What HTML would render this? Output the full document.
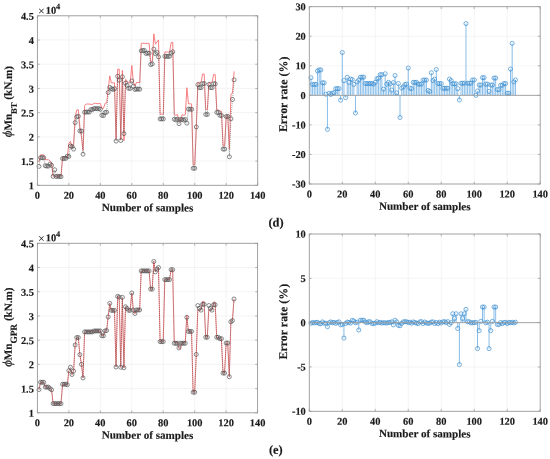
<!DOCTYPE html>
<html><head><meta charset="utf-8"><title>Figure</title>
<style>
html,body{margin:0;padding:0;background:#fff}
svg{display:block;filter:blur(0.3px)}
text{font-family:"Liberation Serif","DejaVu Serif",serif;font-weight:bold;fill:#1a1a1a;stroke:#1a1a1a;stroke-width:0.15px}
.tk{font-size:10.4px}
.lb{font-size:11.1px}
.cap{font-size:12.4px}
circle{fill:none;stroke:#4a4a4a;stroke-width:0.65}
circle.bc{stroke:#3d8fd1;stroke-width:0.7}
</style></head><body>
<svg width="550" height="459" viewBox="0 0 550 459">
<rect width="550" height="459" fill="#fff"/>
<line x1="68.87" y1="15.8" x2="68.87" y2="185.3" stroke="#ededed" stroke-width="0.6"/>
<line x1="100.34" y1="15.8" x2="100.34" y2="185.3" stroke="#ededed" stroke-width="0.6"/>
<line x1="131.81" y1="15.8" x2="131.81" y2="185.3" stroke="#ededed" stroke-width="0.6"/>
<line x1="163.29" y1="15.8" x2="163.29" y2="185.3" stroke="#ededed" stroke-width="0.6"/>
<line x1="194.76" y1="15.8" x2="194.76" y2="185.3" stroke="#ededed" stroke-width="0.6"/>
<line x1="226.23" y1="15.8" x2="226.23" y2="185.3" stroke="#ededed" stroke-width="0.6"/>
<line x1="37.4" y1="161.09" x2="257.7" y2="161.09" stroke="#ededed" stroke-width="0.6"/>
<line x1="37.4" y1="136.87" x2="257.7" y2="136.87" stroke="#ededed" stroke-width="0.6"/>
<line x1="37.4" y1="112.66" x2="257.7" y2="112.66" stroke="#ededed" stroke-width="0.6"/>
<line x1="37.4" y1="88.44" x2="257.7" y2="88.44" stroke="#ededed" stroke-width="0.6"/>
<line x1="37.4" y1="64.23" x2="257.7" y2="64.23" stroke="#ededed" stroke-width="0.6"/>
<line x1="37.4" y1="40.01" x2="257.7" y2="40.01" stroke="#ededed" stroke-width="0.6"/>
<polyline points="38.97,162.10 40.55,154.78 42.12,154.81 43.69,154.77 45.27,159.61 46.84,159.71 48.41,159.72 49.99,161.03 51.56,162.34 53.14,176.14 54.71,176.36 56.28,176.10 57.86,176.05 59.43,176.10 61.00,176.08 62.58,156.79 64.15,156.70 65.72,156.66 67.30,157.40 68.87,143.35 70.44,141.38 72.02,147.13 73.59,143.60 75.17,117.47 76.74,110.05 78.31,109.68 79.89,126.97 81.46,136.88 83.03,150.39 84.61,105.49 86.18,104.07 87.75,104.07 89.33,104.07 90.90,104.33 92.47,104.44 94.05,103.32 95.62,103.34 97.20,103.58 98.77,103.57 100.34,103.54 101.92,108.16 103.49,108.32 105.06,103.42 106.64,103.03 108.21,89.41 109.78,75.89 111.36,82.93 112.93,82.84 114.50,82.84 116.08,139.44 117.65,69.24 119.23,69.11 120.80,139.70 122.37,70.29 123.95,140.59 125.52,79.37 127.09,80.80 128.67,82.70 130.24,82.73 131.81,65.41 133.39,82.55 134.96,86.12 136.53,82.37 138.11,82.46 139.68,82.56 141.26,43.60 142.83,43.24 144.40,43.18 145.98,43.59 147.55,43.27 149.12,43.44 150.70,61.71 152.27,61.65 153.84,33.83 155.42,44.20 156.99,41.92 158.56,39.96 160.14,114.24 161.71,114.05 163.29,114.16 164.86,51.96 166.43,51.91 168.01,52.12 169.58,51.90 171.15,42.58 172.73,42.19 174.30,114.61 175.87,115.25 177.45,114.61 179.02,121.15 180.59,121.13 182.17,114.61 183.74,115.25 185.32,114.61 186.89,87.71 188.46,103.80 190.04,103.82 191.61,103.98 193.18,164.72 194.76,164.71 196.33,126.91 197.90,82.46 199.48,82.30 201.05,82.40 202.62,74.01 204.20,74.01 205.77,109.77 207.35,109.69 208.92,82.46 210.49,82.30 212.07,82.40 213.64,74.50 215.21,74.50 216.79,110.00 218.36,110.00 219.93,111.18 221.51,111.35 223.08,145.56 224.65,145.56 226.23,115.69 227.80,115.53 229.38,149.23 230.95,94.19 232.52,93.09 234.10,71.41" fill="none" stroke="#f66f74" stroke-width="0.9" stroke-linejoin="round"/>
<polyline points="38.97,166.38 40.55,157.70 42.12,157.73 43.69,157.69 45.27,165.73 46.84,166.08 48.41,166.08 49.99,164.11 51.56,165.36 53.14,176.37 54.71,169.76 56.28,176.51 57.86,176.22 59.43,176.51 61.00,176.60 62.58,158.54 64.15,158.45 65.72,158.41 67.30,156.14 68.87,156.45 70.44,146.00 72.02,146.48 73.59,149.09 75.17,122.59 76.74,116.86 78.31,116.32 79.89,130.92 81.46,131.10 83.03,154.22 84.61,112.16 86.18,112.05 87.75,112.05 89.33,112.05 90.90,109.51 92.47,109.61 94.05,108.54 95.62,108.55 97.20,108.79 98.77,108.52 100.34,109.27 101.92,115.27 103.49,115.59 105.06,112.54 106.64,112.18 108.21,92.44 109.78,87.42 111.36,88.66 112.93,89.48 114.50,88.73 116.08,141.14 117.65,76.31 119.23,80.14 120.80,140.50 122.37,76.83 123.95,133.60 125.52,83.15 127.09,85.24 128.67,88.29 130.24,88.47 131.81,80.96 133.39,86.26 134.96,89.47 136.53,89.03 138.11,89.11 139.68,89.22 141.26,50.83 142.83,50.48 144.40,50.42 145.98,53.42 147.55,53.11 149.12,53.28 150.70,64.55 152.27,63.96 153.84,49.10 155.42,53.68 156.99,52.47 158.56,56.92 160.14,119.02 161.71,118.83 163.29,118.94 164.86,56.32 166.43,56.28 168.01,56.48 169.58,56.27 171.15,53.09 172.73,51.77 174.30,119.26 175.87,119.87 177.45,119.26 179.02,123.70 180.59,119.37 182.17,119.50 183.74,120.11 185.32,119.50 186.89,123.19 188.46,109.12 190.04,109.14 191.61,109.30 193.18,168.31 194.76,168.30 196.33,126.91 197.90,84.70 199.48,87.60 201.05,87.70 202.62,83.59 204.20,83.59 205.77,114.48 207.35,114.40 208.92,84.49 210.49,87.60 212.07,87.70 213.64,83.82 215.21,83.82 216.79,112.42 218.36,112.42 219.93,115.35 221.51,115.51 223.08,149.09 224.65,149.09 226.23,116.51 227.80,116.35 229.38,156.75 230.95,118.75 232.52,99.49 234.10,79.85" fill="none" stroke="#4a4f4a" stroke-width="0.62" stroke-dasharray="0.8 1.2"/>
<circle cx="38.97" cy="166.38" r="2.0"/>
<circle cx="40.55" cy="157.70" r="2.0"/>
<circle cx="42.12" cy="157.73" r="2.0"/>
<circle cx="43.69" cy="157.69" r="2.0"/>
<circle cx="45.27" cy="165.73" r="2.0"/>
<circle cx="46.84" cy="166.08" r="2.0"/>
<circle cx="48.41" cy="166.08" r="2.0"/>
<circle cx="49.99" cy="164.11" r="2.0"/>
<circle cx="51.56" cy="165.36" r="2.0"/>
<circle cx="53.14" cy="176.37" r="2.0"/>
<circle cx="54.71" cy="169.76" r="2.0"/>
<circle cx="56.28" cy="176.51" r="2.0"/>
<circle cx="57.86" cy="176.22" r="2.0"/>
<circle cx="59.43" cy="176.51" r="2.0"/>
<circle cx="61.00" cy="176.60" r="2.0"/>
<circle cx="62.58" cy="158.54" r="2.0"/>
<circle cx="64.15" cy="158.45" r="2.0"/>
<circle cx="65.72" cy="158.41" r="2.0"/>
<circle cx="67.30" cy="156.14" r="2.0"/>
<circle cx="68.87" cy="156.45" r="2.0"/>
<circle cx="70.44" cy="146.00" r="2.0"/>
<circle cx="72.02" cy="146.48" r="2.0"/>
<circle cx="73.59" cy="149.09" r="2.0"/>
<circle cx="75.17" cy="122.59" r="2.0"/>
<circle cx="76.74" cy="116.86" r="2.0"/>
<circle cx="78.31" cy="116.32" r="2.0"/>
<circle cx="79.89" cy="130.92" r="2.0"/>
<circle cx="81.46" cy="131.10" r="2.0"/>
<circle cx="83.03" cy="154.22" r="2.0"/>
<circle cx="84.61" cy="112.16" r="2.0"/>
<circle cx="86.18" cy="112.05" r="2.0"/>
<circle cx="87.75" cy="112.05" r="2.0"/>
<circle cx="89.33" cy="112.05" r="2.0"/>
<circle cx="90.90" cy="109.51" r="2.0"/>
<circle cx="92.47" cy="109.61" r="2.0"/>
<circle cx="94.05" cy="108.54" r="2.0"/>
<circle cx="95.62" cy="108.55" r="2.0"/>
<circle cx="97.20" cy="108.79" r="2.0"/>
<circle cx="98.77" cy="108.52" r="2.0"/>
<circle cx="100.34" cy="109.27" r="2.0"/>
<circle cx="101.92" cy="115.27" r="2.0"/>
<circle cx="103.49" cy="115.59" r="2.0"/>
<circle cx="105.06" cy="112.54" r="2.0"/>
<circle cx="106.64" cy="112.18" r="2.0"/>
<circle cx="108.21" cy="92.44" r="2.0"/>
<circle cx="109.78" cy="87.42" r="2.0"/>
<circle cx="111.36" cy="88.66" r="2.0"/>
<circle cx="112.93" cy="89.48" r="2.0"/>
<circle cx="114.50" cy="88.73" r="2.0"/>
<circle cx="116.08" cy="141.14" r="2.0"/>
<circle cx="117.65" cy="76.31" r="2.0"/>
<circle cx="119.23" cy="80.14" r="2.0"/>
<circle cx="120.80" cy="140.50" r="2.0"/>
<circle cx="122.37" cy="76.83" r="2.0"/>
<circle cx="123.95" cy="133.60" r="2.0"/>
<circle cx="125.52" cy="83.15" r="2.0"/>
<circle cx="127.09" cy="85.24" r="2.0"/>
<circle cx="128.67" cy="88.29" r="2.0"/>
<circle cx="130.24" cy="88.47" r="2.0"/>
<circle cx="131.81" cy="80.96" r="2.0"/>
<circle cx="133.39" cy="86.26" r="2.0"/>
<circle cx="134.96" cy="89.47" r="2.0"/>
<circle cx="136.53" cy="89.03" r="2.0"/>
<circle cx="138.11" cy="89.11" r="2.0"/>
<circle cx="139.68" cy="89.22" r="2.0"/>
<circle cx="141.26" cy="50.83" r="2.0"/>
<circle cx="142.83" cy="50.48" r="2.0"/>
<circle cx="144.40" cy="50.42" r="2.0"/>
<circle cx="145.98" cy="53.42" r="2.0"/>
<circle cx="147.55" cy="53.11" r="2.0"/>
<circle cx="149.12" cy="53.28" r="2.0"/>
<circle cx="150.70" cy="64.55" r="2.0"/>
<circle cx="152.27" cy="63.96" r="2.0"/>
<circle cx="153.84" cy="49.10" r="2.0"/>
<circle cx="155.42" cy="53.68" r="2.0"/>
<circle cx="156.99" cy="52.47" r="2.0"/>
<circle cx="158.56" cy="56.92" r="2.0"/>
<circle cx="160.14" cy="119.02" r="2.0"/>
<circle cx="161.71" cy="118.83" r="2.0"/>
<circle cx="163.29" cy="118.94" r="2.0"/>
<circle cx="164.86" cy="56.32" r="2.0"/>
<circle cx="166.43" cy="56.28" r="2.0"/>
<circle cx="168.01" cy="56.48" r="2.0"/>
<circle cx="169.58" cy="56.27" r="2.0"/>
<circle cx="171.15" cy="53.09" r="2.0"/>
<circle cx="172.73" cy="51.77" r="2.0"/>
<circle cx="174.30" cy="119.26" r="2.0"/>
<circle cx="175.87" cy="119.87" r="2.0"/>
<circle cx="177.45" cy="119.26" r="2.0"/>
<circle cx="179.02" cy="123.70" r="2.0"/>
<circle cx="180.59" cy="119.37" r="2.0"/>
<circle cx="182.17" cy="119.50" r="2.0"/>
<circle cx="183.74" cy="120.11" r="2.0"/>
<circle cx="185.32" cy="119.50" r="2.0"/>
<circle cx="186.89" cy="123.19" r="2.0"/>
<circle cx="188.46" cy="109.12" r="2.0"/>
<circle cx="190.04" cy="109.14" r="2.0"/>
<circle cx="191.61" cy="109.30" r="2.0"/>
<circle cx="193.18" cy="168.31" r="2.0"/>
<circle cx="194.76" cy="168.30" r="2.0"/>
<circle cx="196.33" cy="126.91" r="2.0"/>
<circle cx="197.90" cy="84.70" r="2.0"/>
<circle cx="199.48" cy="87.60" r="2.0"/>
<circle cx="201.05" cy="87.70" r="2.0"/>
<circle cx="202.62" cy="83.59" r="2.0"/>
<circle cx="204.20" cy="83.59" r="2.0"/>
<circle cx="205.77" cy="114.48" r="2.0"/>
<circle cx="207.35" cy="114.40" r="2.0"/>
<circle cx="208.92" cy="84.49" r="2.0"/>
<circle cx="210.49" cy="87.60" r="2.0"/>
<circle cx="212.07" cy="87.70" r="2.0"/>
<circle cx="213.64" cy="83.82" r="2.0"/>
<circle cx="215.21" cy="83.82" r="2.0"/>
<circle cx="216.79" cy="112.42" r="2.0"/>
<circle cx="218.36" cy="112.42" r="2.0"/>
<circle cx="219.93" cy="115.35" r="2.0"/>
<circle cx="221.51" cy="115.51" r="2.0"/>
<circle cx="223.08" cy="149.09" r="2.0"/>
<circle cx="224.65" cy="149.09" r="2.0"/>
<circle cx="226.23" cy="116.51" r="2.0"/>
<circle cx="227.80" cy="116.35" r="2.0"/>
<circle cx="229.38" cy="156.75" r="2.0"/>
<circle cx="230.95" cy="118.75" r="2.0"/>
<circle cx="232.52" cy="99.49" r="2.0"/>
<circle cx="234.10" cy="79.85" r="2.0"/>
<rect x="37.4" y="15.8" width="220.30" height="169.50" fill="none" stroke="#989898" stroke-width="0.9"/>
<path d="M37.40 185.3v-2.4M37.40 15.8v2.4" stroke="#989898" stroke-width="0.7"/>
<text class="tk" transform="rotate(0.3 37.40 198.80)" x="37.40" y="198.80" text-anchor="middle">0</text>
<path d="M68.87 185.3v-2.4M68.87 15.8v2.4" stroke="#989898" stroke-width="0.7"/>
<text class="tk" transform="rotate(0.3 68.87 198.80)" x="68.87" y="198.80" text-anchor="middle">20</text>
<path d="M100.34 185.3v-2.4M100.34 15.8v2.4" stroke="#989898" stroke-width="0.7"/>
<text class="tk" transform="rotate(0.3 100.34 198.80)" x="100.34" y="198.80" text-anchor="middle">40</text>
<path d="M131.81 185.3v-2.4M131.81 15.8v2.4" stroke="#989898" stroke-width="0.7"/>
<text class="tk" transform="rotate(0.3 131.81 198.80)" x="131.81" y="198.80" text-anchor="middle">60</text>
<path d="M163.29 185.3v-2.4M163.29 15.8v2.4" stroke="#989898" stroke-width="0.7"/>
<text class="tk" transform="rotate(0.3 163.29 198.80)" x="163.29" y="198.80" text-anchor="middle">80</text>
<path d="M194.76 185.3v-2.4M194.76 15.8v2.4" stroke="#989898" stroke-width="0.7"/>
<text class="tk" transform="rotate(0.3 194.76 198.80)" x="194.76" y="198.80" text-anchor="middle">100</text>
<path d="M226.23 185.3v-2.4M226.23 15.8v2.4" stroke="#989898" stroke-width="0.7"/>
<text class="tk" transform="rotate(0.3 226.23 198.80)" x="226.23" y="198.80" text-anchor="middle">120</text>
<path d="M257.70 185.3v-2.4M257.70 15.8v2.4" stroke="#989898" stroke-width="0.7"/>
<text class="tk" transform="rotate(0.3 257.70 198.80)" x="257.70" y="198.80" text-anchor="middle">140</text>
<path d="M37.4 185.30h2.4M257.7 185.30h-2.4" stroke="#989898" stroke-width="0.7"/>
<text class="tk" transform="rotate(0.3 33.90 189.30)" x="33.90" y="189.30" text-anchor="end">1</text>
<path d="M37.4 161.09h2.4M257.7 161.09h-2.4" stroke="#989898" stroke-width="0.7"/>
<text class="tk" transform="rotate(0.3 33.90 165.09)" x="33.90" y="165.09" text-anchor="end">1.5</text>
<path d="M37.4 136.87h2.4M257.7 136.87h-2.4" stroke="#989898" stroke-width="0.7"/>
<text class="tk" transform="rotate(0.3 33.90 140.87)" x="33.90" y="140.87" text-anchor="end">2</text>
<path d="M37.4 112.66h2.4M257.7 112.66h-2.4" stroke="#989898" stroke-width="0.7"/>
<text class="tk" transform="rotate(0.3 33.90 116.66)" x="33.90" y="116.66" text-anchor="end">2.5</text>
<path d="M37.4 88.44h2.4M257.7 88.44h-2.4" stroke="#989898" stroke-width="0.7"/>
<text class="tk" transform="rotate(0.3 33.90 92.44)" x="33.90" y="92.44" text-anchor="end">3</text>
<path d="M37.4 64.23h2.4M257.7 64.23h-2.4" stroke="#989898" stroke-width="0.7"/>
<text class="tk" transform="rotate(0.3 33.90 68.23)" x="33.90" y="68.23" text-anchor="end">3.5</text>
<path d="M37.4 40.01h2.4M257.7 40.01h-2.4" stroke="#989898" stroke-width="0.7"/>
<text class="tk" transform="rotate(0.3 33.90 44.01)" x="33.90" y="44.01" text-anchor="end">4</text>
<path d="M37.4 15.80h2.4M257.7 15.80h-2.4" stroke="#989898" stroke-width="0.7"/>
<text class="tk" transform="rotate(0.3 33.90 19.80)" x="33.90" y="19.80" text-anchor="end">4.5</text>
<text class="lb" transform="rotate(0.3 147.55 211.30)" x="147.55" y="211.30" text-anchor="middle">Number of samples</text>
<text class="tk" transform="rotate(0.3 38.10 14.90)" x="38.10" y="14.90" style="font-weight:normal;font-size:12px;stroke:none">×</text>
<text class="tk" transform="rotate(0.3 45.80 13.70)" x="45.80" y="13.70">10</text>
<text class="tk" transform="rotate(0.3 56.10 9.20)" x="56.10" y="9.20" style="font-size:8.4px">4</text>
<text class="lb" transform="translate(11.8,101.65) rotate(-89.7)" text-anchor="middle"><tspan font-style="italic" font-weight="normal" font-size="12.8" stroke="#1a1a1a" stroke-width="0.25">ϕ</tspan>Mn<tspan dy="5" font-size="8.6">BT</tspan><tspan dy="-5"> (kN.m)</tspan></text>
<line x1="342.29" y1="6.7" x2="342.29" y2="184.0" stroke="#ededed" stroke-width="0.6"/>
<line x1="375.27" y1="6.7" x2="375.27" y2="184.0" stroke="#ededed" stroke-width="0.6"/>
<line x1="408.26" y1="6.7" x2="408.26" y2="184.0" stroke="#ededed" stroke-width="0.6"/>
<line x1="441.24" y1="6.7" x2="441.24" y2="184.0" stroke="#ededed" stroke-width="0.6"/>
<line x1="474.23" y1="6.7" x2="474.23" y2="184.0" stroke="#ededed" stroke-width="0.6"/>
<line x1="507.21" y1="6.7" x2="507.21" y2="184.0" stroke="#ededed" stroke-width="0.6"/>
<line x1="309.3" y1="154.45" x2="540.2" y2="154.45" stroke="#ededed" stroke-width="0.6"/>
<line x1="309.3" y1="124.90" x2="540.2" y2="124.90" stroke="#ededed" stroke-width="0.6"/>
<line x1="309.3" y1="95.35" x2="540.2" y2="95.35" stroke="#ededed" stroke-width="0.6"/>
<line x1="309.3" y1="65.80" x2="540.2" y2="65.80" stroke="#ededed" stroke-width="0.6"/>
<line x1="309.3" y1="36.25" x2="540.2" y2="36.25" stroke="#ededed" stroke-width="0.6"/>
<path d="M310.95 95.35V77.71M312.60 95.35V84.42M314.25 95.35V84.42M315.90 95.35V84.42M317.55 95.35V70.97M319.20 95.35V69.94M320.85 95.35V69.94M322.49 95.35V82.82M324.14 95.35V82.82M325.79 95.35V94.17M327.44 95.35V129.33M329.09 95.35V93.28M330.74 95.35V94.46M332.39 95.35V93.28M334.04 95.35V92.69M335.69 95.35V88.64M337.34 95.35V88.64M338.99 95.35V88.64M340.64 95.35V100.23M342.29 95.35V52.50M343.94 95.35V80.58M345.58 95.35V97.57M347.23 95.35V77.32M348.88 95.35V82.35M350.53 95.35V79.10M352.18 95.35V79.54M353.83 95.35V84.42M355.48 95.35V112.99M357.13 95.35V81.76M358.78 95.35V79.98M360.43 95.35V77.18M362.08 95.35V77.18M363.73 95.35V77.18M365.38 95.35V83.53M367.03 95.35V83.53M368.67 95.35V83.53M370.32 95.35V83.53M371.97 95.35V83.53M373.62 95.35V84.12M375.27 95.35V82.35M376.92 95.35V78.62M378.57 95.35V78.21M380.22 95.35V74.66M381.87 95.35V74.66M383.52 95.35V89.14M385.17 95.35V73.78M386.82 95.35V84.12M388.47 95.35V82.35M390.12 95.35V83.83M391.76 95.35V90.03M393.41 95.35V82.64M395.06 95.35V75.55M396.71 95.35V92.84M398.36 95.35V83.53M400.01 95.35V117.51M401.66 95.35V88.11M403.31 95.35V86.78M404.96 95.35V84.42M406.61 95.35V84.12M408.26 95.35V68.05M409.91 95.35V88.11M411.56 95.35V88.64M413.21 95.35V82.35M414.85 95.35V82.35M416.50 95.35V82.35M418.15 95.35V84.12M419.80 95.35V84.12M421.45 95.35V84.12M423.10 95.35V80.07M424.75 95.35V80.07M426.40 95.35V80.07M428.05 95.35V90.47M429.70 95.35V91.39M431.35 95.35V72.77M433.00 95.35V80.58M434.65 95.35V79.10M436.30 95.35V69.49M437.94 95.35V83.53M439.59 95.35V83.53M441.24 95.35V83.53M442.89 95.35V88.26M444.54 95.35V88.26M446.19 95.35V88.26M447.84 95.35V88.26M449.49 95.35V79.10M451.14 95.35V80.58M452.79 95.35V83.83M454.44 95.35V83.83M456.09 95.35V83.83M457.74 95.35V88.64M459.38 95.35V99.96M461.03 95.35V83.23M462.68 95.35V83.23M464.33 95.35V83.23M465.98 95.35V23.54M467.63 95.35V83.23M469.28 95.35V83.23M470.93 95.35V83.23M472.58 95.35V79.98M474.23 95.35V79.98M475.88 95.35V95.35M477.53 95.35V90.98M479.18 95.35V85.01M480.83 95.35V85.01M482.48 95.35V77.62M484.12 95.35V77.62M485.77 95.35V84.12M487.42 95.35V84.12M489.07 95.35V91.39M490.72 95.35V85.01M492.37 95.35V85.01M494.02 95.35V78.06M495.67 95.35V78.06M497.32 95.35V89.56M498.97 95.35V89.56M500.62 95.35V85.30M502.27 95.35V85.30M503.92 95.35V83.53M505.57 95.35V83.53M507.21 95.35V93.28M508.86 95.35V93.28M510.51 95.35V69.05M512.16 95.35V43.34M513.81 95.35V81.90M515.46 95.35V79.98" stroke="#7ab6e5" stroke-width="0.9" fill="none"/>
<circle class="bc" cx="310.95" cy="77.71" r="2.05"/>
<circle class="bc" cx="312.60" cy="84.42" r="2.05"/>
<circle class="bc" cx="314.25" cy="84.42" r="2.05"/>
<circle class="bc" cx="315.90" cy="84.42" r="2.05"/>
<circle class="bc" cx="317.55" cy="70.97" r="2.05"/>
<circle class="bc" cx="319.20" cy="69.94" r="2.05"/>
<circle class="bc" cx="320.85" cy="69.94" r="2.05"/>
<circle class="bc" cx="322.49" cy="82.82" r="2.05"/>
<circle class="bc" cx="324.14" cy="82.82" r="2.05"/>
<circle class="bc" cx="325.79" cy="94.17" r="2.05"/>
<circle class="bc" cx="327.44" cy="129.33" r="2.05"/>
<circle class="bc" cx="329.09" cy="93.28" r="2.05"/>
<circle class="bc" cx="330.74" cy="94.46" r="2.05"/>
<circle class="bc" cx="332.39" cy="93.28" r="2.05"/>
<circle class="bc" cx="334.04" cy="92.69" r="2.05"/>
<circle class="bc" cx="335.69" cy="88.64" r="2.05"/>
<circle class="bc" cx="337.34" cy="88.64" r="2.05"/>
<circle class="bc" cx="338.99" cy="88.64" r="2.05"/>
<circle class="bc" cx="340.64" cy="100.23" r="2.05"/>
<circle class="bc" cx="342.29" cy="52.50" r="2.05"/>
<circle class="bc" cx="343.94" cy="80.58" r="2.05"/>
<circle class="bc" cx="345.58" cy="97.57" r="2.05"/>
<circle class="bc" cx="347.23" cy="77.32" r="2.05"/>
<circle class="bc" cx="348.88" cy="82.35" r="2.05"/>
<circle class="bc" cx="350.53" cy="79.10" r="2.05"/>
<circle class="bc" cx="352.18" cy="79.54" r="2.05"/>
<circle class="bc" cx="353.83" cy="84.42" r="2.05"/>
<circle class="bc" cx="355.48" cy="112.99" r="2.05"/>
<circle class="bc" cx="357.13" cy="81.76" r="2.05"/>
<circle class="bc" cx="358.78" cy="79.98" r="2.05"/>
<circle class="bc" cx="360.43" cy="77.18" r="2.05"/>
<circle class="bc" cx="362.08" cy="77.18" r="2.05"/>
<circle class="bc" cx="363.73" cy="77.18" r="2.05"/>
<circle class="bc" cx="365.38" cy="83.53" r="2.05"/>
<circle class="bc" cx="367.03" cy="83.53" r="2.05"/>
<circle class="bc" cx="368.67" cy="83.53" r="2.05"/>
<circle class="bc" cx="370.32" cy="83.53" r="2.05"/>
<circle class="bc" cx="371.97" cy="83.53" r="2.05"/>
<circle class="bc" cx="373.62" cy="84.12" r="2.05"/>
<circle class="bc" cx="375.27" cy="82.35" r="2.05"/>
<circle class="bc" cx="376.92" cy="78.62" r="2.05"/>
<circle class="bc" cx="378.57" cy="78.21" r="2.05"/>
<circle class="bc" cx="380.22" cy="74.66" r="2.05"/>
<circle class="bc" cx="381.87" cy="74.66" r="2.05"/>
<circle class="bc" cx="383.52" cy="89.14" r="2.05"/>
<circle class="bc" cx="385.17" cy="73.78" r="2.05"/>
<circle class="bc" cx="386.82" cy="84.12" r="2.05"/>
<circle class="bc" cx="388.47" cy="82.35" r="2.05"/>
<circle class="bc" cx="390.12" cy="83.83" r="2.05"/>
<circle class="bc" cx="391.76" cy="90.03" r="2.05"/>
<circle class="bc" cx="393.41" cy="82.64" r="2.05"/>
<circle class="bc" cx="395.06" cy="75.55" r="2.05"/>
<circle class="bc" cx="396.71" cy="92.84" r="2.05"/>
<circle class="bc" cx="398.36" cy="83.53" r="2.05"/>
<circle class="bc" cx="400.01" cy="117.51" r="2.05"/>
<circle class="bc" cx="401.66" cy="88.11" r="2.05"/>
<circle class="bc" cx="403.31" cy="86.78" r="2.05"/>
<circle class="bc" cx="404.96" cy="84.42" r="2.05"/>
<circle class="bc" cx="406.61" cy="84.12" r="2.05"/>
<circle class="bc" cx="408.26" cy="68.05" r="2.05"/>
<circle class="bc" cx="409.91" cy="88.11" r="2.05"/>
<circle class="bc" cx="411.56" cy="88.64" r="2.05"/>
<circle class="bc" cx="413.21" cy="82.35" r="2.05"/>
<circle class="bc" cx="414.85" cy="82.35" r="2.05"/>
<circle class="bc" cx="416.50" cy="82.35" r="2.05"/>
<circle class="bc" cx="418.15" cy="84.12" r="2.05"/>
<circle class="bc" cx="419.80" cy="84.12" r="2.05"/>
<circle class="bc" cx="421.45" cy="84.12" r="2.05"/>
<circle class="bc" cx="423.10" cy="80.07" r="2.05"/>
<circle class="bc" cx="424.75" cy="80.07" r="2.05"/>
<circle class="bc" cx="426.40" cy="80.07" r="2.05"/>
<circle class="bc" cx="428.05" cy="90.47" r="2.05"/>
<circle class="bc" cx="429.70" cy="91.39" r="2.05"/>
<circle class="bc" cx="431.35" cy="72.77" r="2.05"/>
<circle class="bc" cx="433.00" cy="80.58" r="2.05"/>
<circle class="bc" cx="434.65" cy="79.10" r="2.05"/>
<circle class="bc" cx="436.30" cy="69.49" r="2.05"/>
<circle class="bc" cx="437.94" cy="83.53" r="2.05"/>
<circle class="bc" cx="439.59" cy="83.53" r="2.05"/>
<circle class="bc" cx="441.24" cy="83.53" r="2.05"/>
<circle class="bc" cx="442.89" cy="88.26" r="2.05"/>
<circle class="bc" cx="444.54" cy="88.26" r="2.05"/>
<circle class="bc" cx="446.19" cy="88.26" r="2.05"/>
<circle class="bc" cx="447.84" cy="88.26" r="2.05"/>
<circle class="bc" cx="449.49" cy="79.10" r="2.05"/>
<circle class="bc" cx="451.14" cy="80.58" r="2.05"/>
<circle class="bc" cx="452.79" cy="83.83" r="2.05"/>
<circle class="bc" cx="454.44" cy="83.83" r="2.05"/>
<circle class="bc" cx="456.09" cy="83.83" r="2.05"/>
<circle class="bc" cx="457.74" cy="88.64" r="2.05"/>
<circle class="bc" cx="459.38" cy="99.96" r="2.05"/>
<circle class="bc" cx="461.03" cy="83.23" r="2.05"/>
<circle class="bc" cx="462.68" cy="83.23" r="2.05"/>
<circle class="bc" cx="464.33" cy="83.23" r="2.05"/>
<circle class="bc" cx="465.98" cy="23.54" r="2.05"/>
<circle class="bc" cx="467.63" cy="83.23" r="2.05"/>
<circle class="bc" cx="469.28" cy="83.23" r="2.05"/>
<circle class="bc" cx="470.93" cy="83.23" r="2.05"/>
<circle class="bc" cx="472.58" cy="79.98" r="2.05"/>
<circle class="bc" cx="474.23" cy="79.98" r="2.05"/>
<circle class="bc" cx="475.88" cy="95.35" r="2.05"/>
<circle class="bc" cx="477.53" cy="90.98" r="2.05"/>
<circle class="bc" cx="479.18" cy="85.01" r="2.05"/>
<circle class="bc" cx="480.83" cy="85.01" r="2.05"/>
<circle class="bc" cx="482.48" cy="77.62" r="2.05"/>
<circle class="bc" cx="484.12" cy="77.62" r="2.05"/>
<circle class="bc" cx="485.77" cy="84.12" r="2.05"/>
<circle class="bc" cx="487.42" cy="84.12" r="2.05"/>
<circle class="bc" cx="489.07" cy="91.39" r="2.05"/>
<circle class="bc" cx="490.72" cy="85.01" r="2.05"/>
<circle class="bc" cx="492.37" cy="85.01" r="2.05"/>
<circle class="bc" cx="494.02" cy="78.06" r="2.05"/>
<circle class="bc" cx="495.67" cy="78.06" r="2.05"/>
<circle class="bc" cx="497.32" cy="89.56" r="2.05"/>
<circle class="bc" cx="498.97" cy="89.56" r="2.05"/>
<circle class="bc" cx="500.62" cy="85.30" r="2.05"/>
<circle class="bc" cx="502.27" cy="85.30" r="2.05"/>
<circle class="bc" cx="503.92" cy="83.53" r="2.05"/>
<circle class="bc" cx="505.57" cy="83.53" r="2.05"/>
<circle class="bc" cx="507.21" cy="93.28" r="2.05"/>
<circle class="bc" cx="508.86" cy="93.28" r="2.05"/>
<circle class="bc" cx="510.51" cy="69.05" r="2.05"/>
<circle class="bc" cx="512.16" cy="43.34" r="2.05"/>
<circle class="bc" cx="513.81" cy="81.90" r="2.05"/>
<circle class="bc" cx="515.46" cy="79.98" r="2.05"/>
<line x1="309.3" y1="95.35" x2="540.2" y2="95.35" stroke="#9c9c9c" stroke-width="0.9"/>
<rect x="309.3" y="6.7" width="230.90" height="177.30" fill="none" stroke="#989898" stroke-width="0.9"/>
<path d="M309.30 184.0v-2.4M309.30 6.7v2.4" stroke="#989898" stroke-width="0.7"/>
<text class="tk" transform="rotate(0.3 309.30 197.50)" x="309.30" y="197.50" text-anchor="middle">0</text>
<path d="M342.29 184.0v-2.4M342.29 6.7v2.4" stroke="#989898" stroke-width="0.7"/>
<text class="tk" transform="rotate(0.3 342.29 197.50)" x="342.29" y="197.50" text-anchor="middle">20</text>
<path d="M375.27 184.0v-2.4M375.27 6.7v2.4" stroke="#989898" stroke-width="0.7"/>
<text class="tk" transform="rotate(0.3 375.27 197.50)" x="375.27" y="197.50" text-anchor="middle">40</text>
<path d="M408.26 184.0v-2.4M408.26 6.7v2.4" stroke="#989898" stroke-width="0.7"/>
<text class="tk" transform="rotate(0.3 408.26 197.50)" x="408.26" y="197.50" text-anchor="middle">60</text>
<path d="M441.24 184.0v-2.4M441.24 6.7v2.4" stroke="#989898" stroke-width="0.7"/>
<text class="tk" transform="rotate(0.3 441.24 197.50)" x="441.24" y="197.50" text-anchor="middle">80</text>
<path d="M474.23 184.0v-2.4M474.23 6.7v2.4" stroke="#989898" stroke-width="0.7"/>
<text class="tk" transform="rotate(0.3 474.23 197.50)" x="474.23" y="197.50" text-anchor="middle">100</text>
<path d="M507.21 184.0v-2.4M507.21 6.7v2.4" stroke="#989898" stroke-width="0.7"/>
<text class="tk" transform="rotate(0.3 507.21 197.50)" x="507.21" y="197.50" text-anchor="middle">120</text>
<path d="M540.20 184.0v-2.4M540.20 6.7v2.4" stroke="#989898" stroke-width="0.7"/>
<text class="tk" transform="rotate(0.3 540.20 197.50)" x="540.20" y="197.50" text-anchor="middle">140</text>
<path d="M309.3 184.00h2.4M540.2 184.00h-2.4" stroke="#989898" stroke-width="0.7"/>
<text class="tk" transform="rotate(0.3 305.80 187.60)" x="305.80" y="187.60" text-anchor="end">-30</text>
<path d="M309.3 154.45h2.4M540.2 154.45h-2.4" stroke="#989898" stroke-width="0.7"/>
<text class="tk" transform="rotate(0.3 305.80 158.05)" x="305.80" y="158.05" text-anchor="end">-20</text>
<path d="M309.3 124.90h2.4M540.2 124.90h-2.4" stroke="#989898" stroke-width="0.7"/>
<text class="tk" transform="rotate(0.3 305.80 128.50)" x="305.80" y="128.50" text-anchor="end">-10</text>
<path d="M309.3 95.35h2.4M540.2 95.35h-2.4" stroke="#989898" stroke-width="0.7"/>
<text class="tk" transform="rotate(0.3 305.80 98.95)" x="305.80" y="98.95" text-anchor="end">0</text>
<path d="M309.3 65.80h2.4M540.2 65.80h-2.4" stroke="#989898" stroke-width="0.7"/>
<text class="tk" transform="rotate(0.3 305.80 69.40)" x="305.80" y="69.40" text-anchor="end">10</text>
<path d="M309.3 36.25h2.4M540.2 36.25h-2.4" stroke="#989898" stroke-width="0.7"/>
<text class="tk" transform="rotate(0.3 305.80 39.85)" x="305.80" y="39.85" text-anchor="end">20</text>
<path d="M309.3 6.70h2.4M540.2 6.70h-2.4" stroke="#989898" stroke-width="0.7"/>
<text class="tk" transform="rotate(0.3 305.80 10.30)" x="305.80" y="10.30" text-anchor="end">30</text>
<text class="lb" transform="rotate(0.3 424.75 210.00)" x="424.75" y="210.00" text-anchor="middle">Number of samples</text>
<text class="lb" style="font-size:11.9px" transform="translate(287.2,94.35) rotate(-89.7)" text-anchor="middle">Error rate (%)</text>
<line x1="68.86" y1="243.3" x2="68.86" y2="412.8" stroke="#ededed" stroke-width="0.6"/>
<line x1="100.31" y1="243.3" x2="100.31" y2="412.8" stroke="#ededed" stroke-width="0.6"/>
<line x1="131.77" y1="243.3" x2="131.77" y2="412.8" stroke="#ededed" stroke-width="0.6"/>
<line x1="163.23" y1="243.3" x2="163.23" y2="412.8" stroke="#ededed" stroke-width="0.6"/>
<line x1="194.69" y1="243.3" x2="194.69" y2="412.8" stroke="#ededed" stroke-width="0.6"/>
<line x1="226.14" y1="243.3" x2="226.14" y2="412.8" stroke="#ededed" stroke-width="0.6"/>
<line x1="37.4" y1="388.59" x2="257.6" y2="388.59" stroke="#ededed" stroke-width="0.6"/>
<line x1="37.4" y1="364.37" x2="257.6" y2="364.37" stroke="#ededed" stroke-width="0.6"/>
<line x1="37.4" y1="340.16" x2="257.6" y2="340.16" stroke="#ededed" stroke-width="0.6"/>
<line x1="37.4" y1="315.94" x2="257.6" y2="315.94" stroke="#ededed" stroke-width="0.6"/>
<line x1="37.4" y1="291.73" x2="257.6" y2="291.73" stroke="#ededed" stroke-width="0.6"/>
<line x1="37.4" y1="267.51" x2="257.6" y2="267.51" stroke="#ededed" stroke-width="0.6"/>
<polyline points="38.97,389.60 40.55,382.28 42.12,382.31 43.69,382.27 45.26,387.11 46.84,387.21 48.41,387.22 49.98,388.53 51.56,389.84 53.13,403.64 54.70,403.86 56.27,403.60 57.85,403.55 59.42,403.60 60.99,403.58 62.57,384.29 64.14,384.20 65.71,384.16 67.28,384.90 68.86,370.85 70.43,368.88 72.00,374.63 73.58,371.10 75.15,344.97 76.72,337.55 78.29,337.18 79.87,354.47 81.44,364.38 83.01,377.89 84.59,332.99 86.16,331.57 87.73,331.57 89.30,331.57 90.88,331.83 92.45,331.94 94.02,330.82 95.60,330.84 97.17,331.08 98.74,331.07 100.31,331.04 101.89,335.66 103.46,335.82 105.03,330.92 106.61,330.53 108.18,316.91 109.75,303.39 111.32,310.43 112.90,310.34 114.47,310.34 116.04,366.94 117.62,296.74 119.19,296.61 120.76,367.20 122.33,297.79 123.91,368.09 125.48,306.87 127.05,308.30 128.63,310.20 130.20,310.23 131.77,292.91 133.34,310.05 134.92,313.62 136.49,309.87 138.06,309.96 139.64,310.06 141.21,271.10 142.78,270.74 144.35,270.68 145.93,271.09 147.50,270.77 149.07,270.94 150.65,289.21 152.22,289.15 153.79,261.33 155.36,271.70 156.94,269.42 158.51,267.46 160.08,341.74 161.66,341.55 163.23,341.66 164.80,279.46 166.37,279.41 167.95,279.62 169.52,279.40 171.09,270.08 172.67,269.69 174.24,342.11 175.81,342.75 177.38,342.11 178.96,348.65 180.53,348.63 182.10,342.11 183.68,342.75 185.25,342.11 186.82,315.21 188.39,331.30 189.97,331.32 191.54,331.48 193.11,392.22 194.69,392.21 196.26,354.41 197.83,309.96 199.40,309.80 200.98,309.90 202.55,301.51 204.12,301.51 205.70,337.27 207.27,337.19 208.84,309.96 210.41,309.80 211.99,309.90 213.56,302.00 215.13,302.00 216.71,337.50 218.28,337.50 219.85,338.68 221.42,338.85 223.00,373.06 224.57,373.06 226.14,343.19 227.72,343.03 229.29,376.73 230.86,321.69 232.43,320.59 234.01,298.91" fill="none" stroke="#f66f74" stroke-width="0.9" stroke-linejoin="round"/>
<polyline points="38.97,389.55 40.55,382.29 42.12,382.29 43.69,382.29 45.26,387.13 46.84,387.13 48.41,387.13 49.98,388.59 51.56,389.80 53.13,403.60 54.70,403.60 56.27,403.60 57.85,403.60 59.42,403.60 60.99,403.60 62.57,384.23 64.14,384.23 65.71,384.23 67.28,384.71 68.86,370.67 70.43,367.28 72.00,374.54 73.58,371.15 75.15,345.00 76.72,337.49 78.29,337.49 79.87,354.69 81.44,364.37 83.01,377.93 84.59,331.92 86.16,331.92 87.73,331.92 89.30,331.92 90.88,331.92 92.45,331.92 94.02,330.96 95.60,330.96 97.17,330.96 98.74,330.96 100.31,330.96 101.89,335.80 103.46,335.80 105.03,330.96 106.61,330.47 108.18,316.91 109.75,303.35 111.32,310.37 112.90,310.37 114.47,310.37 116.04,367.04 117.62,296.33 119.19,297.06 120.76,367.28 122.33,297.30 123.91,367.76 125.48,306.74 127.05,308.44 128.63,310.37 130.20,310.37 131.77,292.94 133.34,310.13 134.92,313.52 136.49,309.99 138.06,309.99 139.64,309.99 141.21,270.90 142.78,270.90 144.35,270.90 145.93,270.90 147.50,270.90 149.07,270.90 150.65,289.06 152.22,289.06 153.79,261.46 155.36,271.87 156.94,269.21 158.51,267.51 160.08,341.61 161.66,341.61 163.23,341.61 164.80,279.62 166.37,279.62 167.95,279.62 169.52,279.62 171.09,269.69 172.67,269.69 174.24,343.31 175.81,343.31 177.38,343.31 178.96,347.91 180.53,343.31 182.10,343.31 183.68,343.31 185.25,343.31 186.82,317.40 188.39,331.44 189.97,331.44 191.54,331.44 193.11,392.22 194.69,392.22 196.26,354.44 197.83,305.53 199.40,308.44 200.98,310.13 202.55,304.32 204.12,304.32 205.70,337.25 207.27,337.25 208.84,305.53 210.41,308.44 211.99,310.13 213.56,304.80 215.13,304.80 216.71,337.25 218.28,337.25 219.85,338.70 221.42,338.70 223.00,373.09 224.57,373.09 226.14,343.06 227.72,343.06 229.29,376.72 230.86,321.75 232.43,320.54 234.01,298.99" fill="none" stroke="#4a4f4a" stroke-width="0.62" stroke-dasharray="0.8 1.2"/>
<circle cx="38.97" cy="389.55" r="2.0"/>
<circle cx="40.55" cy="382.29" r="2.0"/>
<circle cx="42.12" cy="382.29" r="2.0"/>
<circle cx="43.69" cy="382.29" r="2.0"/>
<circle cx="45.26" cy="387.13" r="2.0"/>
<circle cx="46.84" cy="387.13" r="2.0"/>
<circle cx="48.41" cy="387.13" r="2.0"/>
<circle cx="49.98" cy="388.59" r="2.0"/>
<circle cx="51.56" cy="389.80" r="2.0"/>
<circle cx="53.13" cy="403.60" r="2.0"/>
<circle cx="54.70" cy="403.60" r="2.0"/>
<circle cx="56.27" cy="403.60" r="2.0"/>
<circle cx="57.85" cy="403.60" r="2.0"/>
<circle cx="59.42" cy="403.60" r="2.0"/>
<circle cx="60.99" cy="403.60" r="2.0"/>
<circle cx="62.57" cy="384.23" r="2.0"/>
<circle cx="64.14" cy="384.23" r="2.0"/>
<circle cx="65.71" cy="384.23" r="2.0"/>
<circle cx="67.28" cy="384.71" r="2.0"/>
<circle cx="68.86" cy="370.67" r="2.0"/>
<circle cx="70.43" cy="367.28" r="2.0"/>
<circle cx="72.00" cy="374.54" r="2.0"/>
<circle cx="73.58" cy="371.15" r="2.0"/>
<circle cx="75.15" cy="345.00" r="2.0"/>
<circle cx="76.72" cy="337.49" r="2.0"/>
<circle cx="78.29" cy="337.49" r="2.0"/>
<circle cx="79.87" cy="354.69" r="2.0"/>
<circle cx="81.44" cy="364.37" r="2.0"/>
<circle cx="83.01" cy="377.93" r="2.0"/>
<circle cx="84.59" cy="331.92" r="2.0"/>
<circle cx="86.16" cy="331.92" r="2.0"/>
<circle cx="87.73" cy="331.92" r="2.0"/>
<circle cx="89.30" cy="331.92" r="2.0"/>
<circle cx="90.88" cy="331.92" r="2.0"/>
<circle cx="92.45" cy="331.92" r="2.0"/>
<circle cx="94.02" cy="330.96" r="2.0"/>
<circle cx="95.60" cy="330.96" r="2.0"/>
<circle cx="97.17" cy="330.96" r="2.0"/>
<circle cx="98.74" cy="330.96" r="2.0"/>
<circle cx="100.31" cy="330.96" r="2.0"/>
<circle cx="101.89" cy="335.80" r="2.0"/>
<circle cx="103.46" cy="335.80" r="2.0"/>
<circle cx="105.03" cy="330.96" r="2.0"/>
<circle cx="106.61" cy="330.47" r="2.0"/>
<circle cx="108.18" cy="316.91" r="2.0"/>
<circle cx="109.75" cy="303.35" r="2.0"/>
<circle cx="111.32" cy="310.37" r="2.0"/>
<circle cx="112.90" cy="310.37" r="2.0"/>
<circle cx="114.47" cy="310.37" r="2.0"/>
<circle cx="116.04" cy="367.04" r="2.0"/>
<circle cx="117.62" cy="296.33" r="2.0"/>
<circle cx="119.19" cy="297.06" r="2.0"/>
<circle cx="120.76" cy="367.28" r="2.0"/>
<circle cx="122.33" cy="297.30" r="2.0"/>
<circle cx="123.91" cy="367.76" r="2.0"/>
<circle cx="125.48" cy="306.74" r="2.0"/>
<circle cx="127.05" cy="308.44" r="2.0"/>
<circle cx="128.63" cy="310.37" r="2.0"/>
<circle cx="130.20" cy="310.37" r="2.0"/>
<circle cx="131.77" cy="292.94" r="2.0"/>
<circle cx="133.34" cy="310.13" r="2.0"/>
<circle cx="134.92" cy="313.52" r="2.0"/>
<circle cx="136.49" cy="309.99" r="2.0"/>
<circle cx="138.06" cy="309.99" r="2.0"/>
<circle cx="139.64" cy="309.99" r="2.0"/>
<circle cx="141.21" cy="270.90" r="2.0"/>
<circle cx="142.78" cy="270.90" r="2.0"/>
<circle cx="144.35" cy="270.90" r="2.0"/>
<circle cx="145.93" cy="270.90" r="2.0"/>
<circle cx="147.50" cy="270.90" r="2.0"/>
<circle cx="149.07" cy="270.90" r="2.0"/>
<circle cx="150.65" cy="289.06" r="2.0"/>
<circle cx="152.22" cy="289.06" r="2.0"/>
<circle cx="153.79" cy="261.46" r="2.0"/>
<circle cx="155.36" cy="271.87" r="2.0"/>
<circle cx="156.94" cy="269.21" r="2.0"/>
<circle cx="158.51" cy="267.51" r="2.0"/>
<circle cx="160.08" cy="341.61" r="2.0"/>
<circle cx="161.66" cy="341.61" r="2.0"/>
<circle cx="163.23" cy="341.61" r="2.0"/>
<circle cx="164.80" cy="279.62" r="2.0"/>
<circle cx="166.37" cy="279.62" r="2.0"/>
<circle cx="167.95" cy="279.62" r="2.0"/>
<circle cx="169.52" cy="279.62" r="2.0"/>
<circle cx="171.09" cy="269.69" r="2.0"/>
<circle cx="172.67" cy="269.69" r="2.0"/>
<circle cx="174.24" cy="343.31" r="2.0"/>
<circle cx="175.81" cy="343.31" r="2.0"/>
<circle cx="177.38" cy="343.31" r="2.0"/>
<circle cx="178.96" cy="347.91" r="2.0"/>
<circle cx="180.53" cy="343.31" r="2.0"/>
<circle cx="182.10" cy="343.31" r="2.0"/>
<circle cx="183.68" cy="343.31" r="2.0"/>
<circle cx="185.25" cy="343.31" r="2.0"/>
<circle cx="186.82" cy="317.40" r="2.0"/>
<circle cx="188.39" cy="331.44" r="2.0"/>
<circle cx="189.97" cy="331.44" r="2.0"/>
<circle cx="191.54" cy="331.44" r="2.0"/>
<circle cx="193.11" cy="392.22" r="2.0"/>
<circle cx="194.69" cy="392.22" r="2.0"/>
<circle cx="196.26" cy="354.44" r="2.0"/>
<circle cx="197.83" cy="305.53" r="2.0"/>
<circle cx="199.40" cy="308.44" r="2.0"/>
<circle cx="200.98" cy="310.13" r="2.0"/>
<circle cx="202.55" cy="304.32" r="2.0"/>
<circle cx="204.12" cy="304.32" r="2.0"/>
<circle cx="205.70" cy="337.25" r="2.0"/>
<circle cx="207.27" cy="337.25" r="2.0"/>
<circle cx="208.84" cy="305.53" r="2.0"/>
<circle cx="210.41" cy="308.44" r="2.0"/>
<circle cx="211.99" cy="310.13" r="2.0"/>
<circle cx="213.56" cy="304.80" r="2.0"/>
<circle cx="215.13" cy="304.80" r="2.0"/>
<circle cx="216.71" cy="337.25" r="2.0"/>
<circle cx="218.28" cy="337.25" r="2.0"/>
<circle cx="219.85" cy="338.70" r="2.0"/>
<circle cx="221.42" cy="338.70" r="2.0"/>
<circle cx="223.00" cy="373.09" r="2.0"/>
<circle cx="224.57" cy="373.09" r="2.0"/>
<circle cx="226.14" cy="343.06" r="2.0"/>
<circle cx="227.72" cy="343.06" r="2.0"/>
<circle cx="229.29" cy="376.72" r="2.0"/>
<circle cx="230.86" cy="321.75" r="2.0"/>
<circle cx="232.43" cy="320.54" r="2.0"/>
<circle cx="234.01" cy="298.99" r="2.0"/>
<rect x="37.4" y="243.3" width="220.20" height="169.50" fill="none" stroke="#989898" stroke-width="0.9"/>
<path d="M37.40 412.8v-2.4M37.40 243.3v2.4" stroke="#989898" stroke-width="0.7"/>
<text class="tk" transform="rotate(0.3 37.40 426.30)" x="37.40" y="426.30" text-anchor="middle">0</text>
<path d="M68.86 412.8v-2.4M68.86 243.3v2.4" stroke="#989898" stroke-width="0.7"/>
<text class="tk" transform="rotate(0.3 68.86 426.30)" x="68.86" y="426.30" text-anchor="middle">20</text>
<path d="M100.31 412.8v-2.4M100.31 243.3v2.4" stroke="#989898" stroke-width="0.7"/>
<text class="tk" transform="rotate(0.3 100.31 426.30)" x="100.31" y="426.30" text-anchor="middle">40</text>
<path d="M131.77 412.8v-2.4M131.77 243.3v2.4" stroke="#989898" stroke-width="0.7"/>
<text class="tk" transform="rotate(0.3 131.77 426.30)" x="131.77" y="426.30" text-anchor="middle">60</text>
<path d="M163.23 412.8v-2.4M163.23 243.3v2.4" stroke="#989898" stroke-width="0.7"/>
<text class="tk" transform="rotate(0.3 163.23 426.30)" x="163.23" y="426.30" text-anchor="middle">80</text>
<path d="M194.69 412.8v-2.4M194.69 243.3v2.4" stroke="#989898" stroke-width="0.7"/>
<text class="tk" transform="rotate(0.3 194.69 426.30)" x="194.69" y="426.30" text-anchor="middle">100</text>
<path d="M226.14 412.8v-2.4M226.14 243.3v2.4" stroke="#989898" stroke-width="0.7"/>
<text class="tk" transform="rotate(0.3 226.14 426.30)" x="226.14" y="426.30" text-anchor="middle">120</text>
<path d="M257.60 412.8v-2.4M257.60 243.3v2.4" stroke="#989898" stroke-width="0.7"/>
<text class="tk" transform="rotate(0.3 257.60 426.30)" x="257.60" y="426.30" text-anchor="middle">140</text>
<path d="M37.4 412.80h2.4M257.6 412.80h-2.4" stroke="#989898" stroke-width="0.7"/>
<text class="tk" transform="rotate(0.3 33.90 416.80)" x="33.90" y="416.80" text-anchor="end">1</text>
<path d="M37.4 388.59h2.4M257.6 388.59h-2.4" stroke="#989898" stroke-width="0.7"/>
<text class="tk" transform="rotate(0.3 33.90 392.59)" x="33.90" y="392.59" text-anchor="end">1.5</text>
<path d="M37.4 364.37h2.4M257.6 364.37h-2.4" stroke="#989898" stroke-width="0.7"/>
<text class="tk" transform="rotate(0.3 33.90 368.37)" x="33.90" y="368.37" text-anchor="end">2</text>
<path d="M37.4 340.16h2.4M257.6 340.16h-2.4" stroke="#989898" stroke-width="0.7"/>
<text class="tk" transform="rotate(0.3 33.90 344.16)" x="33.90" y="344.16" text-anchor="end">2.5</text>
<path d="M37.4 315.94h2.4M257.6 315.94h-2.4" stroke="#989898" stroke-width="0.7"/>
<text class="tk" transform="rotate(0.3 33.90 319.94)" x="33.90" y="319.94" text-anchor="end">3</text>
<path d="M37.4 291.73h2.4M257.6 291.73h-2.4" stroke="#989898" stroke-width="0.7"/>
<text class="tk" transform="rotate(0.3 33.90 295.73)" x="33.90" y="295.73" text-anchor="end">3.5</text>
<path d="M37.4 267.51h2.4M257.6 267.51h-2.4" stroke="#989898" stroke-width="0.7"/>
<text class="tk" transform="rotate(0.3 33.90 271.51)" x="33.90" y="271.51" text-anchor="end">4</text>
<path d="M37.4 243.30h2.4M257.6 243.30h-2.4" stroke="#989898" stroke-width="0.7"/>
<text class="tk" transform="rotate(0.3 33.90 247.30)" x="33.90" y="247.30" text-anchor="end">4.5</text>
<text class="lb" transform="rotate(0.3 147.50 438.80)" x="147.50" y="438.80" text-anchor="middle">Number of samples</text>
<text class="tk" transform="rotate(0.3 38.10 242.40)" x="38.10" y="242.40" style="font-weight:normal;font-size:12px;stroke:none">×</text>
<text class="tk" transform="rotate(0.3 45.80 241.20)" x="45.80" y="241.20">10</text>
<text class="tk" transform="rotate(0.3 56.10 236.70)" x="56.10" y="236.70" style="font-size:8.4px">4</text>
<text class="lb" transform="translate(11.8,327.15) rotate(-89.7)" text-anchor="middle"><tspan font-style="italic" font-weight="normal" font-size="12.8" stroke="#1a1a1a" stroke-width="0.25">ϕ</tspan>Mn<tspan dy="5" font-size="9.3">GPR</tspan><tspan dy="-5"> (kN.m)</tspan></text>
<line x1="342.29" y1="234.0" x2="342.29" y2="411.3" stroke="#ededed" stroke-width="0.6"/>
<line x1="375.27" y1="234.0" x2="375.27" y2="411.3" stroke="#ededed" stroke-width="0.6"/>
<line x1="408.26" y1="234.0" x2="408.26" y2="411.3" stroke="#ededed" stroke-width="0.6"/>
<line x1="441.24" y1="234.0" x2="441.24" y2="411.3" stroke="#ededed" stroke-width="0.6"/>
<line x1="474.23" y1="234.0" x2="474.23" y2="411.3" stroke="#ededed" stroke-width="0.6"/>
<line x1="507.21" y1="234.0" x2="507.21" y2="411.3" stroke="#ededed" stroke-width="0.6"/>
<line x1="309.3" y1="366.98" x2="540.2" y2="366.98" stroke="#ededed" stroke-width="0.6"/>
<line x1="309.3" y1="322.65" x2="540.2" y2="322.65" stroke="#ededed" stroke-width="0.6"/>
<line x1="309.3" y1="278.33" x2="540.2" y2="278.33" stroke="#ededed" stroke-width="0.6"/>
<path d="M310.95 322.65V323.21M312.60 322.65V322.55M314.25 322.65V322.92M315.90 322.65V322.43M317.55 322.65V322.38M319.20 322.65V323.57M320.85 322.65V323.69M322.49 322.65V321.93M324.14 322.65V323.16M325.79 322.65V323.22M327.44 322.65V326.64M329.09 322.65V322.71M330.74 322.65V321.93M332.39 322.65V322.70M334.04 322.65V322.36M335.69 322.65V323.39M337.34 322.65V322.37M338.99 322.65V321.87M340.64 322.65V324.87M342.29 322.65V324.42M343.94 322.65V338.08M345.58 322.65V323.58M347.23 322.65V322.10M348.88 322.65V322.45M350.53 322.65V323.08M352.18 322.65V320.43M353.83 322.65V320.88M355.48 322.65V322.71M357.13 322.65V322.18M358.78 322.65V330.01M360.43 322.65V320.26M362.08 322.65V320.26M363.73 322.65V320.26M365.38 322.65V322.01M367.03 322.65V322.77M368.67 322.65V321.72M370.32 322.65V321.84M371.97 322.65V323.51M373.62 322.65V323.42M375.27 322.65V323.25M376.92 322.65V321.66M378.57 322.65V322.78M380.22 322.65V322.38M381.87 322.65V323.08M383.52 322.65V322.63M385.17 322.65V322.89M386.82 322.65V322.97M388.47 322.65V322.47M390.12 322.65V322.47M391.76 322.65V321.79M393.41 322.65V324.87M395.06 322.65V320.26M396.71 322.65V321.89M398.36 322.65V325.31M400.01 322.65V325.75M401.66 322.65V323.37M403.31 322.65V321.88M404.96 322.65V321.66M406.61 322.65V321.79M408.26 322.65V322.50M409.91 322.65V322.20M411.56 322.65V323.26M413.21 322.65V321.94M414.85 322.65V322.49M416.50 322.65V323.11M418.15 322.65V323.58M419.80 322.65V321.90M421.45 322.65V321.60M423.10 322.65V323.53M424.75 322.65V322.01M426.40 322.65V322.84M428.05 322.65V323.39M429.70 322.65V323.08M431.35 322.65V322.07M433.00 322.65V321.86M434.65 322.65V323.62M436.30 322.65V322.41M437.94 322.65V323.62M439.59 322.65V322.19M441.24 322.65V323.01M442.89 322.65V321.84M444.54 322.65V321.63M446.19 322.65V322.64M447.84 322.65V321.59M449.49 322.65V324.42M451.14 322.65V322.65M452.79 322.65V313.78M454.44 322.65V318.48M456.09 322.65V313.78M457.74 322.65V328.50M459.38 322.65V364.58M461.03 322.65V313.78M462.68 322.65V318.48M464.33 322.65V313.78M465.98 322.65V309.35M467.63 322.65V321.67M469.28 322.65V321.81M470.93 322.65V322.91M472.58 322.65V322.74M474.23 322.65V322.61M475.88 322.65V322.34M477.53 322.65V348.62M479.18 322.65V330.63M480.83 322.65V321.32M482.48 322.65V307.05M484.12 322.65V307.05M485.77 322.65V322.80M487.42 322.65V322.18M489.07 322.65V348.62M490.72 322.65V330.63M492.37 322.65V321.32M494.02 322.65V307.05M495.67 322.65V307.05M497.32 322.65V324.42M498.97 322.65V324.42M500.62 322.65V322.48M502.27 322.65V323.67M503.92 322.65V322.40M505.57 322.65V322.37M507.21 322.65V323.59M508.86 322.65V322.38M510.51 322.65V322.72M512.16 322.65V322.27M513.81 322.65V322.96M515.46 322.65V322.21" stroke="#7ab6e5" stroke-width="0.9" fill="none"/>
<circle class="bc" cx="310.95" cy="323.21" r="2.05"/>
<circle class="bc" cx="312.60" cy="322.55" r="2.05"/>
<circle class="bc" cx="314.25" cy="322.92" r="2.05"/>
<circle class="bc" cx="315.90" cy="322.43" r="2.05"/>
<circle class="bc" cx="317.55" cy="322.38" r="2.05"/>
<circle class="bc" cx="319.20" cy="323.57" r="2.05"/>
<circle class="bc" cx="320.85" cy="323.69" r="2.05"/>
<circle class="bc" cx="322.49" cy="321.93" r="2.05"/>
<circle class="bc" cx="324.14" cy="323.16" r="2.05"/>
<circle class="bc" cx="325.79" cy="323.22" r="2.05"/>
<circle class="bc" cx="327.44" cy="326.64" r="2.05"/>
<circle class="bc" cx="329.09" cy="322.71" r="2.05"/>
<circle class="bc" cx="330.74" cy="321.93" r="2.05"/>
<circle class="bc" cx="332.39" cy="322.70" r="2.05"/>
<circle class="bc" cx="334.04" cy="322.36" r="2.05"/>
<circle class="bc" cx="335.69" cy="323.39" r="2.05"/>
<circle class="bc" cx="337.34" cy="322.37" r="2.05"/>
<circle class="bc" cx="338.99" cy="321.87" r="2.05"/>
<circle class="bc" cx="340.64" cy="324.87" r="2.05"/>
<circle class="bc" cx="342.29" cy="324.42" r="2.05"/>
<circle class="bc" cx="343.94" cy="338.08" r="2.05"/>
<circle class="bc" cx="345.58" cy="323.58" r="2.05"/>
<circle class="bc" cx="347.23" cy="322.10" r="2.05"/>
<circle class="bc" cx="348.88" cy="322.45" r="2.05"/>
<circle class="bc" cx="350.53" cy="323.08" r="2.05"/>
<circle class="bc" cx="352.18" cy="320.43" r="2.05"/>
<circle class="bc" cx="353.83" cy="320.88" r="2.05"/>
<circle class="bc" cx="355.48" cy="322.71" r="2.05"/>
<circle class="bc" cx="357.13" cy="322.18" r="2.05"/>
<circle class="bc" cx="358.78" cy="330.01" r="2.05"/>
<circle class="bc" cx="360.43" cy="320.26" r="2.05"/>
<circle class="bc" cx="362.08" cy="320.26" r="2.05"/>
<circle class="bc" cx="363.73" cy="320.26" r="2.05"/>
<circle class="bc" cx="365.38" cy="322.01" r="2.05"/>
<circle class="bc" cx="367.03" cy="322.77" r="2.05"/>
<circle class="bc" cx="368.67" cy="321.72" r="2.05"/>
<circle class="bc" cx="370.32" cy="321.84" r="2.05"/>
<circle class="bc" cx="371.97" cy="323.51" r="2.05"/>
<circle class="bc" cx="373.62" cy="323.42" r="2.05"/>
<circle class="bc" cx="375.27" cy="323.25" r="2.05"/>
<circle class="bc" cx="376.92" cy="321.66" r="2.05"/>
<circle class="bc" cx="378.57" cy="322.78" r="2.05"/>
<circle class="bc" cx="380.22" cy="322.38" r="2.05"/>
<circle class="bc" cx="381.87" cy="323.08" r="2.05"/>
<circle class="bc" cx="383.52" cy="322.63" r="2.05"/>
<circle class="bc" cx="385.17" cy="322.89" r="2.05"/>
<circle class="bc" cx="386.82" cy="322.97" r="2.05"/>
<circle class="bc" cx="388.47" cy="322.47" r="2.05"/>
<circle class="bc" cx="390.12" cy="322.47" r="2.05"/>
<circle class="bc" cx="391.76" cy="321.79" r="2.05"/>
<circle class="bc" cx="393.41" cy="324.87" r="2.05"/>
<circle class="bc" cx="395.06" cy="320.26" r="2.05"/>
<circle class="bc" cx="396.71" cy="321.89" r="2.05"/>
<circle class="bc" cx="398.36" cy="325.31" r="2.05"/>
<circle class="bc" cx="400.01" cy="325.75" r="2.05"/>
<circle class="bc" cx="401.66" cy="323.37" r="2.05"/>
<circle class="bc" cx="403.31" cy="321.88" r="2.05"/>
<circle class="bc" cx="404.96" cy="321.66" r="2.05"/>
<circle class="bc" cx="406.61" cy="321.79" r="2.05"/>
<circle class="bc" cx="408.26" cy="322.50" r="2.05"/>
<circle class="bc" cx="409.91" cy="322.20" r="2.05"/>
<circle class="bc" cx="411.56" cy="323.26" r="2.05"/>
<circle class="bc" cx="413.21" cy="321.94" r="2.05"/>
<circle class="bc" cx="414.85" cy="322.49" r="2.05"/>
<circle class="bc" cx="416.50" cy="323.11" r="2.05"/>
<circle class="bc" cx="418.15" cy="323.58" r="2.05"/>
<circle class="bc" cx="419.80" cy="321.90" r="2.05"/>
<circle class="bc" cx="421.45" cy="321.60" r="2.05"/>
<circle class="bc" cx="423.10" cy="323.53" r="2.05"/>
<circle class="bc" cx="424.75" cy="322.01" r="2.05"/>
<circle class="bc" cx="426.40" cy="322.84" r="2.05"/>
<circle class="bc" cx="428.05" cy="323.39" r="2.05"/>
<circle class="bc" cx="429.70" cy="323.08" r="2.05"/>
<circle class="bc" cx="431.35" cy="322.07" r="2.05"/>
<circle class="bc" cx="433.00" cy="321.86" r="2.05"/>
<circle class="bc" cx="434.65" cy="323.62" r="2.05"/>
<circle class="bc" cx="436.30" cy="322.41" r="2.05"/>
<circle class="bc" cx="437.94" cy="323.62" r="2.05"/>
<circle class="bc" cx="439.59" cy="322.19" r="2.05"/>
<circle class="bc" cx="441.24" cy="323.01" r="2.05"/>
<circle class="bc" cx="442.89" cy="321.84" r="2.05"/>
<circle class="bc" cx="444.54" cy="321.63" r="2.05"/>
<circle class="bc" cx="446.19" cy="322.64" r="2.05"/>
<circle class="bc" cx="447.84" cy="321.59" r="2.05"/>
<circle class="bc" cx="449.49" cy="324.42" r="2.05"/>
<circle class="bc" cx="451.14" cy="322.65" r="2.05"/>
<circle class="bc" cx="452.79" cy="313.78" r="2.05"/>
<circle class="bc" cx="454.44" cy="318.48" r="2.05"/>
<circle class="bc" cx="456.09" cy="313.78" r="2.05"/>
<circle class="bc" cx="457.74" cy="328.50" r="2.05"/>
<circle class="bc" cx="459.38" cy="364.58" r="2.05"/>
<circle class="bc" cx="461.03" cy="313.78" r="2.05"/>
<circle class="bc" cx="462.68" cy="318.48" r="2.05"/>
<circle class="bc" cx="464.33" cy="313.78" r="2.05"/>
<circle class="bc" cx="465.98" cy="309.35" r="2.05"/>
<circle class="bc" cx="467.63" cy="321.67" r="2.05"/>
<circle class="bc" cx="469.28" cy="321.81" r="2.05"/>
<circle class="bc" cx="470.93" cy="322.91" r="2.05"/>
<circle class="bc" cx="472.58" cy="322.74" r="2.05"/>
<circle class="bc" cx="474.23" cy="322.61" r="2.05"/>
<circle class="bc" cx="475.88" cy="322.34" r="2.05"/>
<circle class="bc" cx="477.53" cy="348.62" r="2.05"/>
<circle class="bc" cx="479.18" cy="330.63" r="2.05"/>
<circle class="bc" cx="480.83" cy="321.32" r="2.05"/>
<circle class="bc" cx="482.48" cy="307.05" r="2.05"/>
<circle class="bc" cx="484.12" cy="307.05" r="2.05"/>
<circle class="bc" cx="485.77" cy="322.80" r="2.05"/>
<circle class="bc" cx="487.42" cy="322.18" r="2.05"/>
<circle class="bc" cx="489.07" cy="348.62" r="2.05"/>
<circle class="bc" cx="490.72" cy="330.63" r="2.05"/>
<circle class="bc" cx="492.37" cy="321.32" r="2.05"/>
<circle class="bc" cx="494.02" cy="307.05" r="2.05"/>
<circle class="bc" cx="495.67" cy="307.05" r="2.05"/>
<circle class="bc" cx="497.32" cy="324.42" r="2.05"/>
<circle class="bc" cx="498.97" cy="324.42" r="2.05"/>
<circle class="bc" cx="500.62" cy="322.48" r="2.05"/>
<circle class="bc" cx="502.27" cy="323.67" r="2.05"/>
<circle class="bc" cx="503.92" cy="322.40" r="2.05"/>
<circle class="bc" cx="505.57" cy="322.37" r="2.05"/>
<circle class="bc" cx="507.21" cy="323.59" r="2.05"/>
<circle class="bc" cx="508.86" cy="322.38" r="2.05"/>
<circle class="bc" cx="510.51" cy="322.72" r="2.05"/>
<circle class="bc" cx="512.16" cy="322.27" r="2.05"/>
<circle class="bc" cx="513.81" cy="322.96" r="2.05"/>
<circle class="bc" cx="515.46" cy="322.21" r="2.05"/>
<line x1="309.3" y1="322.65" x2="540.2" y2="322.65" stroke="#9c9c9c" stroke-width="0.9"/>
<rect x="309.3" y="234.0" width="230.90" height="177.30" fill="none" stroke="#989898" stroke-width="0.9"/>
<path d="M309.30 411.3v-2.4M309.30 234.0v2.4" stroke="#989898" stroke-width="0.7"/>
<text class="tk" transform="rotate(0.3 309.30 424.80)" x="309.30" y="424.80" text-anchor="middle">0</text>
<path d="M342.29 411.3v-2.4M342.29 234.0v2.4" stroke="#989898" stroke-width="0.7"/>
<text class="tk" transform="rotate(0.3 342.29 424.80)" x="342.29" y="424.80" text-anchor="middle">20</text>
<path d="M375.27 411.3v-2.4M375.27 234.0v2.4" stroke="#989898" stroke-width="0.7"/>
<text class="tk" transform="rotate(0.3 375.27 424.80)" x="375.27" y="424.80" text-anchor="middle">40</text>
<path d="M408.26 411.3v-2.4M408.26 234.0v2.4" stroke="#989898" stroke-width="0.7"/>
<text class="tk" transform="rotate(0.3 408.26 424.80)" x="408.26" y="424.80" text-anchor="middle">60</text>
<path d="M441.24 411.3v-2.4M441.24 234.0v2.4" stroke="#989898" stroke-width="0.7"/>
<text class="tk" transform="rotate(0.3 441.24 424.80)" x="441.24" y="424.80" text-anchor="middle">80</text>
<path d="M474.23 411.3v-2.4M474.23 234.0v2.4" stroke="#989898" stroke-width="0.7"/>
<text class="tk" transform="rotate(0.3 474.23 424.80)" x="474.23" y="424.80" text-anchor="middle">100</text>
<path d="M507.21 411.3v-2.4M507.21 234.0v2.4" stroke="#989898" stroke-width="0.7"/>
<text class="tk" transform="rotate(0.3 507.21 424.80)" x="507.21" y="424.80" text-anchor="middle">120</text>
<path d="M540.20 411.3v-2.4M540.20 234.0v2.4" stroke="#989898" stroke-width="0.7"/>
<text class="tk" transform="rotate(0.3 540.20 424.80)" x="540.20" y="424.80" text-anchor="middle">140</text>
<path d="M309.3 411.30h2.4M540.2 411.30h-2.4" stroke="#989898" stroke-width="0.7"/>
<text class="tk" transform="rotate(0.3 305.80 414.90)" x="305.80" y="414.90" text-anchor="end">-10</text>
<path d="M309.3 366.98h2.4M540.2 366.98h-2.4" stroke="#989898" stroke-width="0.7"/>
<text class="tk" transform="rotate(0.3 305.80 370.58)" x="305.80" y="370.58" text-anchor="end">-5</text>
<path d="M309.3 322.65h2.4M540.2 322.65h-2.4" stroke="#989898" stroke-width="0.7"/>
<text class="tk" transform="rotate(0.3 305.80 326.25)" x="305.80" y="326.25" text-anchor="end">0</text>
<path d="M309.3 278.33h2.4M540.2 278.33h-2.4" stroke="#989898" stroke-width="0.7"/>
<text class="tk" transform="rotate(0.3 305.80 281.93)" x="305.80" y="281.93" text-anchor="end">5</text>
<path d="M309.3 234.00h2.4M540.2 234.00h-2.4" stroke="#989898" stroke-width="0.7"/>
<text class="tk" transform="rotate(0.3 305.80 237.60)" x="305.80" y="237.60" text-anchor="end">10</text>
<text class="lb" transform="rotate(0.3 424.75 437.30)" x="424.75" y="437.30" text-anchor="middle">Number of samples</text>
<text class="lb" style="font-size:11.9px" transform="translate(287.2,321.65) rotate(-89.7)" text-anchor="middle">Error rate (%)</text>
<text class="cap" transform="rotate(0.3 276 226.5)" x="276" y="226.5" text-anchor="middle">(d)</text>
<text class="cap" transform="rotate(0.3 275.8 453.8)" x="275.8" y="453.8" text-anchor="middle">(e)</text>
</svg>
</body></html>
